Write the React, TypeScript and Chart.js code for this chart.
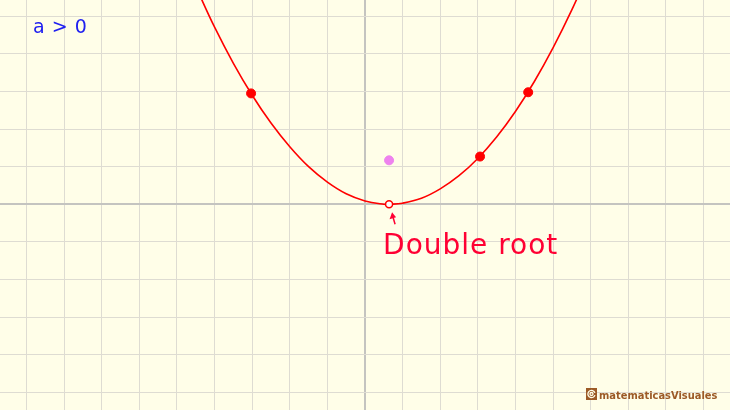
import React, { useEffect, useRef } from 'react'
import { Chart, registerables } from 'chart.js'

Chart.register(...registerables)

// parabola (grid units)
const curveX = [-4.5, -4, -3.5, -3, -2.5, -2, -1.5, -1, -0.5, 0, 0.5, 0.64, 1, 1.5, 2, 2.5, 3, 3.5, 4, 4.5, 5, 5.5, 6]
const curveY = [5.79, 4.71, 3.75, 2.9, 2.16, 1.53, 1.0, 0.59, 0.28, 0.09, 0.0, 0, 0.03, 0.16, 0.41, 0.76, 1.22, 1.79, 2.47, 3.26, 4.16, 5.17, 6.29]

const markedX = [-3.03, 3.06, 4.34]
const markedY = [2.95, 1.27, 2.98]

const rootX = [0.64]
const rootY = [0]

const focusX = [0.64]
const focusY = [1.17]

const xTicks = [-9, -8, -7, -6, -5, -4, -3, -2, -1, 0, 1, 2, 3, 4, 5, 6, 7, 8, 9]
const yTicks = [-5, -4, -3, -2, -1, 0, 1, 2, 3, 4, 5]

const signLabel = 'a > 0'
const rootLabel = 'Double root'
const brand = 'matematicasVisuales'

const pairs = (xs: number[], ys: number[]) => xs.map((x, i) => ({ x, y: ys[i] }))

const paperPlugin = {
    id: 'paper',
    beforeDraw: (chart: any) => {
        const { ctx, width, height } = chart
        ctx.save()
        ctx.fillStyle = '#fffee8'
        ctx.fillRect(0, 0, width, height)
        ctx.restore()
    },
    afterDraw: (chart: any) => {
        const { ctx, scales } = chart
        const vx = scales.x.getPixelForValue(rootX[0])
        const vy = scales.y.getPixelForValue(rootY[0])
        ctx.save()

        ctx.fillStyle = '#2020f0'
        ctx.font = '19px "DejaVu Sans", sans-serif'
        ctx.textBaseline = 'alphabetic'
        ctx.letterSpacing = '0.5px'
        ctx.fillText(signLabel, 33, 33)

        // arrow pointing to the root
        ctx.strokeStyle = '#ff0033'
        ctx.fillStyle = '#ff0033'
        ctx.lineWidth = 1.5
        ctx.beginPath()
        ctx.moveTo(vx + 6, vy + 20)
        ctx.lineTo(vx + 4, vy + 13)
        ctx.stroke()
        ctx.beginPath()
        ctx.moveTo(vx + 3, vy + 8)
        ctx.lineTo(vx + 0.5, vy + 15)
        ctx.lineTo(vx + 7, vy + 13)
        ctx.closePath()
        ctx.fill()

        ctx.font = '28px "DejaVu Sans", sans-serif'
        ctx.letterSpacing = '1px'
        ctx.fillText(rootLabel, vx - 6, vy + 50)

        // logo
        ctx.letterSpacing = '0px'
        ctx.fillStyle = '#9c5a26'
        ctx.fillRect(586, 388, 11, 12)
        ctx.strokeStyle = '#fffee8'
        ctx.lineWidth = 1.3
        ctx.beginPath()
        ctx.arc(591.5, 394, 3.6, Math.PI * 0.1, Math.PI * 1.9)
        ctx.stroke()
        ctx.beginPath()
        ctx.arc(591.5, 394, 1.5, 0, Math.PI * 2)
        ctx.stroke()
        ctx.fillStyle = '#9c5a26'
        ctx.font = 'bold 11px "DejaVu Sans Condensed", "DejaVu Sans", sans-serif'
        ctx.fillText(brand, 599, 399)

        ctx.restore()
    },
}

const App: React.FC = () => {
    const chartRef = useRef<HTMLCanvasElement | null>(null)
    const chartInstance = useRef<Chart | null>(null)

    useEffect(() => {
        const ctx = chartRef.current?.getContext('2d')
        if (!ctx) return

        const gridColor = (c: any) => (c.tick && c.tick.value === 0 ? '#c4c4c0' : '#dedcd2')
        const gridWidth = (c: any) => (c.tick && c.tick.value === 0 ? 2 : 1)

        chartInstance.current = new Chart(ctx, {
            type: 'scatter',
            data: {
                datasets: [
                    {
                        data: pairs(markedX, markedY),
                        pointRadius: 4.5,
                        pointBackgroundColor: '#ff0000',
                        pointBorderColor: '#ff0000',
                        order: 1,
                    },
                    {
                        data: pairs(rootX, rootY),
                        pointRadius: 3.5,
                        pointBorderWidth: 1.5,
                        pointBackgroundColor: '#ffffff',
                        pointBorderColor: '#ff0000',
                        order: 1,
                    },
                    {
                        data: pairs(focusX, focusY),
                        pointRadius: 4.5,
                        pointBackgroundColor: '#ee82ee',
                        pointBorderColor: '#ee82ee',
                        order: 1,
                    },
                    {
                        data: pairs(curveX, curveY),
                        showLine: true,
                        pointRadius: 0,
                        borderColor: '#ff0000',
                        borderWidth: 1.6,
                        tension: 0.4,
                        order: 5,
                    },
                ],
            },
            options: {
                animation: false,
                responsive: true,
                maintainAspectRatio: false,
                layout: { padding: 0, autoPadding: false },
                plugins: {
                    legend: { display: false },
                    tooltip: { enabled: false },
                },
                scales: {
                    x: {
                        type: 'linear',
                        min: -9.707,
                        max: 9.707,
                        afterBuildTicks: (scale: any) => {
                            scale.ticks = xTicks.map((value) => ({ value }))
                        },
                        ticks: { display: false },
                        grid: { color: gridColor, lineWidth: gridWidth, drawTicks: false },
                        border: { display: false },
                    },
                    y: {
                        type: 'linear',
                        min: -5.471,
                        max: 5.434,
                        afterBuildTicks: (scale: any) => {
                            scale.ticks = yTicks.map((value) => ({ value }))
                        },
                        ticks: { display: false },
                        grid: { color: gridColor, lineWidth: gridWidth, drawTicks: false },
                        border: { display: false },
                    },
                },
            },
            plugins: [paperPlugin],
        })

        return () => {
            if (chartInstance.current) {
                chartInstance.current.destroy()
                chartInstance.current = null
            }
        }
    }, [])

    return (
        <div style={{ position: 'fixed', left: 0, top: 0, width: 730, height: 410 }}>
            <canvas ref={chartRef}></canvas>
        </div>
    )
}

export default App
